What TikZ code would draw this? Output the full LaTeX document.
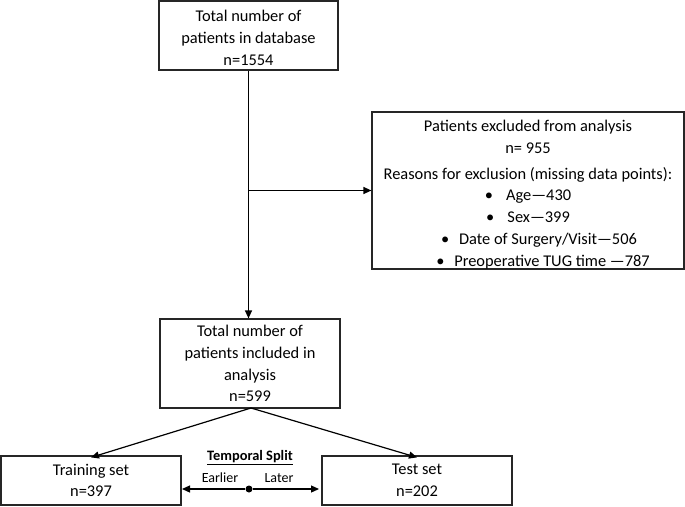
\documentclass[tikz,border=0pt]{standalone}
\usepackage{fontspec}
\setmainfont{Carlito}
\usetikzlibrary{arrows.meta}
\begin{document}
\begin{tikzpicture}[x=1pt,y=-1pt,
  box/.style={draw=black!85,line width=1.2pt,align=center,inner sep=0pt,
    font=\fontsize{16.4}{21.8}\selectfont},
  txt/.style={align=center,inner sep=0pt,font=\fontsize{16.4}{21.8}\selectfont},
  conn/.style={line width=1.2pt,-{Triangle[length=8pt,width=7pt]}},
  lbl/.style={inner sep=0pt,font=\fontsize{14}{16}\selectfont}]
\useasboundingbox (0,0) rectangle (685,506);
\node[box,minimum width=179pt,minimum height=69pt] (top) at (248.5,35.5) {};
\node[txt] (toptext) at (248.5,38)
  {Total number of\\patients in database\\n=1554};
\node[box,minimum width=312pt,minimum height=157pt] (excl) at (528,190.5) {};
\node[txt] (excltext) at (528,194.5)
  {Patients excluded from analysis\\n= 955\\[4pt]
   Reasons for exclusion (missing data points):\\
   \textbullet\hspace{0.8em}Age—430\hspace*{22pt}\\
   \textbullet\hspace{0.8em}Sex—399\hspace*{40pt}\\
   \hspace*{22pt}\textbullet\hspace{0.6em}Date of Surgery/Visit—506\\
   \hspace*{30pt}\textbullet\hspace{0.6em}Preoperative TUG time —787};
\node[box,minimum width=180pt,minimum height=89pt] (mid) at (250,363.5)
  {Total number of\\patients included in\\analysis\\n=599};
\node[box,minimum width=180pt,minimum height=49pt] (train) at (91,480.5)
  {Training set\\n=397};
\node[box,minimum width=190pt,minimum height=49pt] (test) at (417,480.5)
  {Test set\\n=202};
\coordinate (branch) at (top.south |- excl.west);
\draw[conn] (top.south) -- (top.south |- mid.north);
\draw[conn] (branch) -- (excl.west);
\coordinate (apex) at (251,408);
\draw[conn] (apex) -- ([yshift=-2pt]train.north);
\draw[conn] (apex) -- ([yshift=-2pt]test.north);
\node[lbl,font=\fontsize{14.4}{16}\selectfont\bfseries] (ts) at (250,458) {\underline{Temporal Split}};
\node[lbl] (earlier) at (220,478) {Earlier};
\node[lbl] (later) at (279,478) {Later};
\node[circle,fill=black,inner sep=0pt,minimum size=7pt] (dot) at (249,489) {};
\coordinate (le) at (182,489);
\coordinate (ri) at (319,489);
\draw[conn] (dot) -- (le);
\draw[conn] (dot) -- (ri);
\end{tikzpicture}
\end{document}
